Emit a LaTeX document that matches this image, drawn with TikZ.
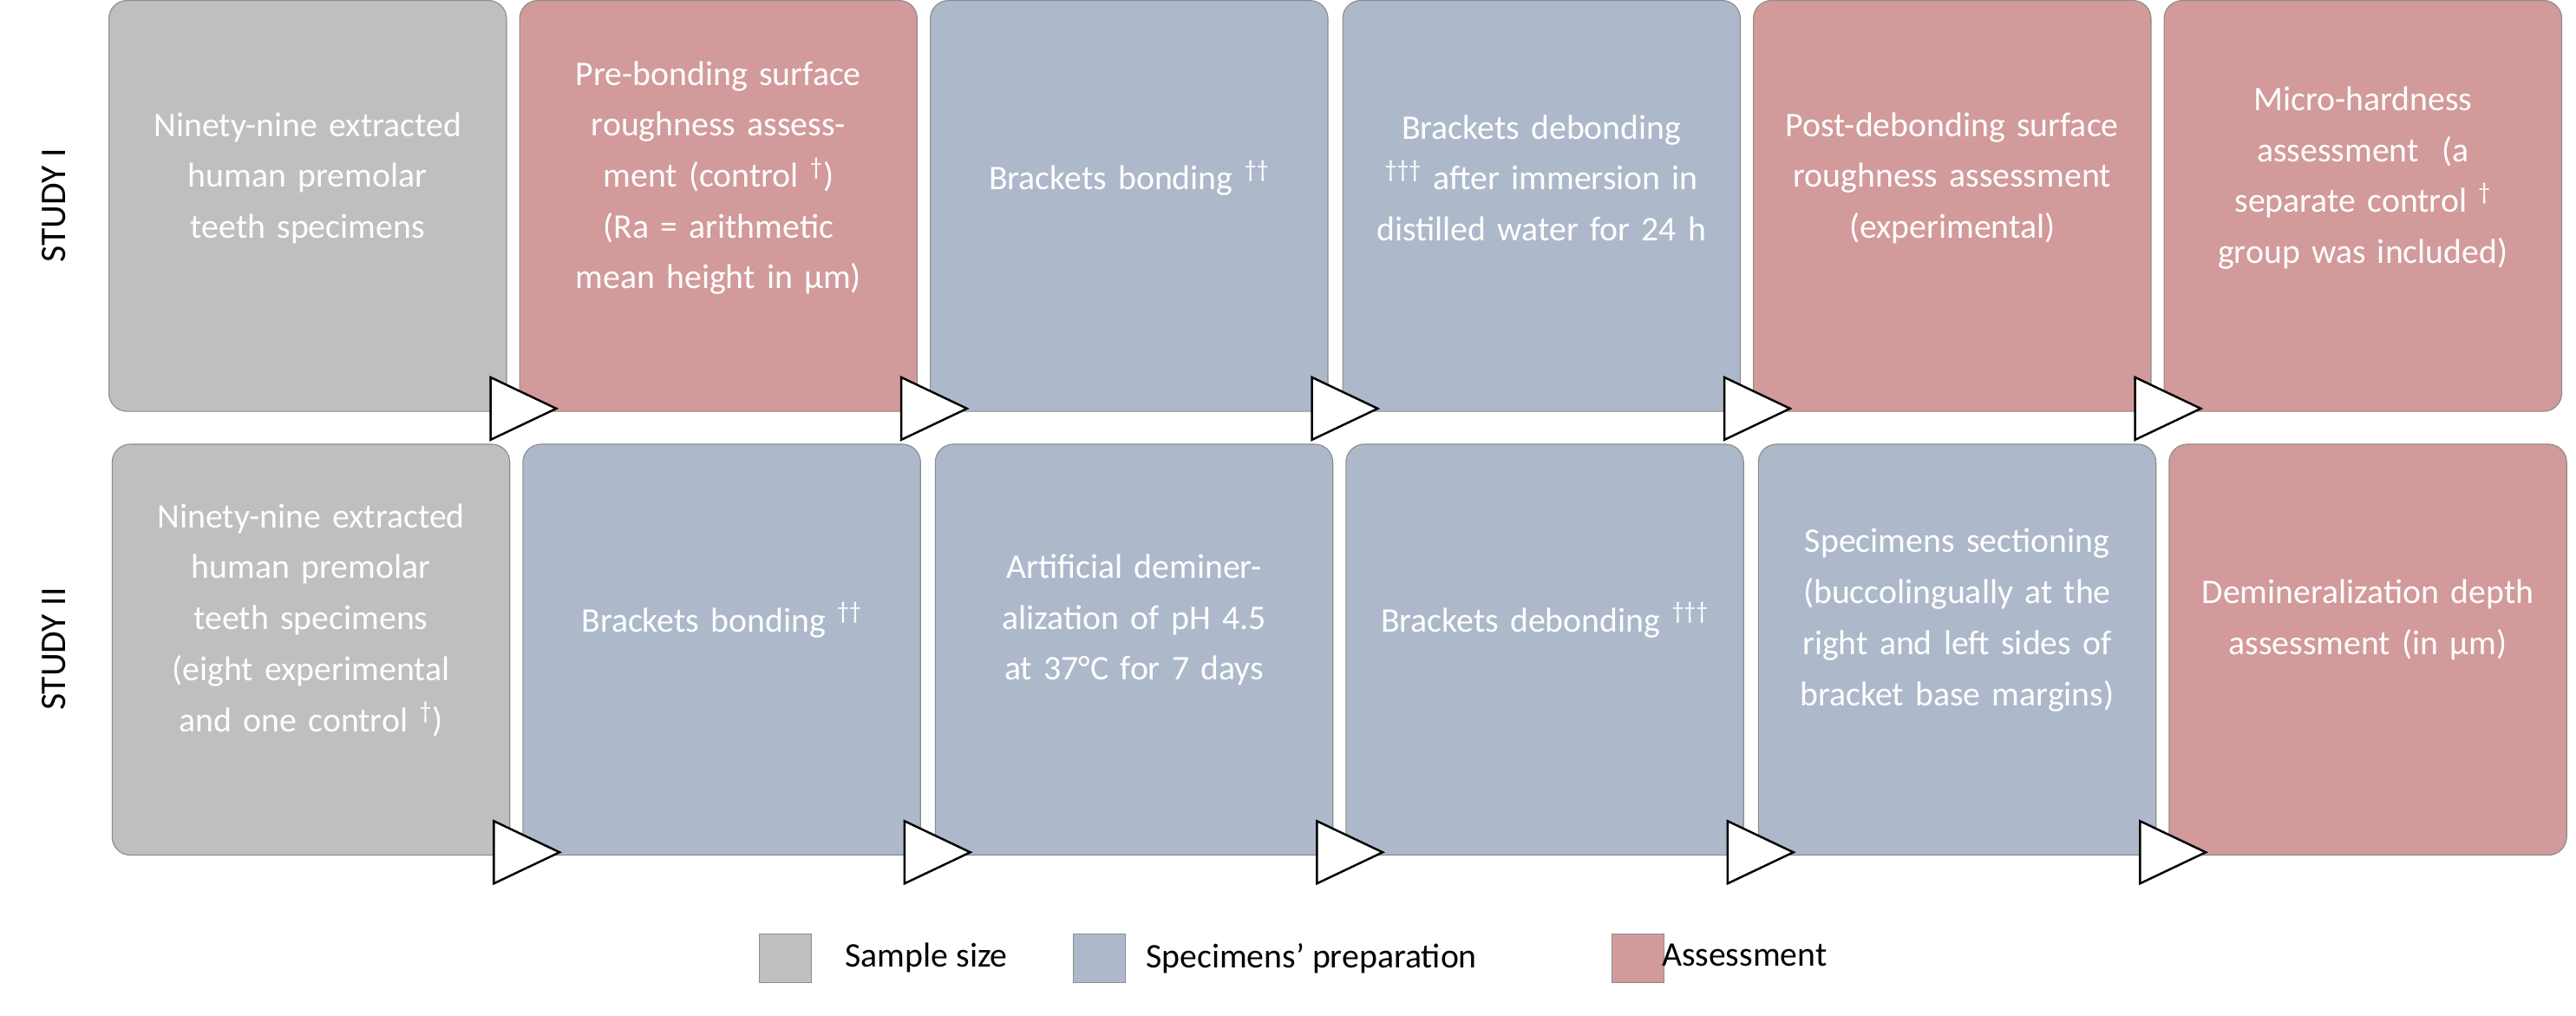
\documentclass[tikz,border=0pt]{standalone}
\usepackage{fontspec}
\setmainfont{Carlito}
\definecolor{cg}{HTML}{BFBFBF}
\definecolor{cb}{HTML}{ADB9CA}
\definecolor{cr}{HTML}{D29A9A}
\begin{document}
\begin{tikzpicture}[x=1pt,y=-1pt,
 box/.style={draw=black!45,line width=0.6pt,rounded corners=11pt,minimum width=242pt,minimum height=250pt,inner sep=0pt},
 txt/.style={text=white,align=center,text width=205pt,font=\fontsize{21}{31}\selectfont},
 tri/.style={draw=black,fill=white,line width=1.3pt},
 lsq/.style={draw=black!45,minimum width=32pt,minimum height=30pt,inner sep=0pt},
 ltx/.style={font=\fontsize{21}{25}\selectfont,anchor=west}]
\useasboundingbox (0,0) rectangle (1568,618);
\node[rotate=90,font=\fontsize{22}{26}\selectfont] (s1) at (33,125) {STUDY I};
\node[rotate=90,font=\fontsize{22}{26}\selectfont] (s2) at (33,395) {STUDY II};
% row 1
\foreach \i/\x/\c/\t in {
 1/66/cg/{Ninety-nine extracted human premolar teeth specimens},
 2/316/cr/{Pre-bonding surface roughness assessment (control \textsuperscript{†}) (Ra = arithmetic mean height in µm)},
 3/566/cb/{Brackets bonding \textsuperscript{††}},
 4/817/cb/{Brackets debonding \textsuperscript{†††} after immersion in distilled water for 24 h},
 5/1067/cr/{Post-debonding surface roughness assessment (experimental)},
 6/1317/cr/{Micro-hardness assessment\ \ (a separate control \textsuperscript{†} group was included)}}{
 \node[box,fill=\c,anchor=north west] (a\i) at (\x,0) {};
 \node[txt] (ta\i) at ([yshift=17pt]a\i.center) {\t};
}
\foreach \i/\x/\c/\t in {
 1/68/cg/{Ninety-nine extracted human premolar teeth specimens (eight experimental and one control \textsuperscript{†})},
 2/318/cb/{Brackets bonding \textsuperscript{††}},
 3/569/cb/{Artificial demineralization of pH 4.5 at 37°C for 7 days},
 4/819/cb/{Brackets debonding \textsuperscript{†††}},
 5/1070/cb/{Specimens sectioning (buccolingually at the right and left sides of bracket base margins)},
 6/1320/cr/{Demineralization depth assessment (in µm)}}{
 \node[box,fill=\c,anchor=north west] (b\i) at (\x,270) {};
 \node[txt] (tb\i) at ([yshift=18pt]b\i.center) {\t};
}
\foreach \i in {1,...,5}{
 \draw[tri] ([xshift=-10pt,yshift=-17pt]a\i.south east) -- ++(40,-19) -- ++(-40,-19) -- cycle;
 \draw[tri] ([xshift=-10pt,yshift=-17pt]b\i.south east) -- ++(40,-19) -- ++(-40,-19) -- cycle;
}
\node[lsq,fill=cg] (l1) at (478,583) {};
\node[ltx] (lt1) at (511,583) {Sample size};
\node[lsq,fill=cb] (l2) at (669,583) {};
\node[ltx] (lt2) at (694,583) {Specimens' preparation};
\node[lsq,fill=cr] (l3) at (997,583) {};
\node[ltx] (lt3) at (1008,581) {Assessment};
\end{tikzpicture}
\end{document}
